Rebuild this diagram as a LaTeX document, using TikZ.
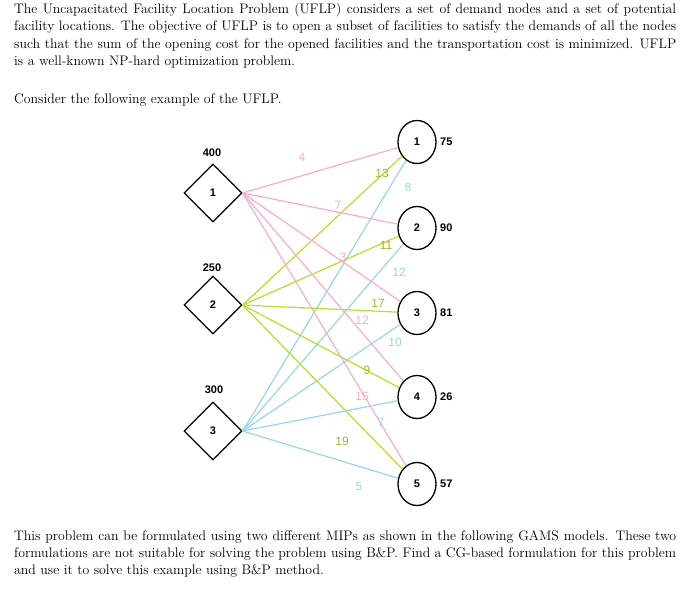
\documentclass[tikz,border=0pt]{standalone}
\usepackage{fontspec}
\setsansfont{Liberation Sans}
\usetikzlibrary{shapes.geometric, positioning}
\definecolor{fpink}{RGB}{255,170,200}
\definecolor{fgreen}{RGB}{180,225,40}
\definecolor{fblue}{RGB}{150,215,235}
\tikzset{
  fac/.style={diamond, draw, line width=1.3pt, minimum size=58pt, inner sep=0pt, font=\sffamily\bfseries\fontsize{11}{13}\selectfont},
  cust/.style={ellipse, draw, line width=1.3pt, minimum width=38pt, minimum height=43pt, inner sep=0pt, font=\sffamily\bfseries\fontsize{11}{13}\selectfont},
  val/.style={font=\sffamily\bfseries\fontsize{11}{13}\selectfont},
  cost/.style={font=\sffamily\fontsize{12}{14}\selectfont, inner sep=0pt},
  link/.style={line width=1.2pt},
  para/.style={text width=662pt, align=justify, anchor=north west, inner sep=0pt, font=\fontsize{13.8}{17.4}\selectfont}
}
\begin{document}
\begin{tikzpicture}[x=1pt, y=-1pt]
\useasboundingbox (0,0) rectangle (682,594);
\node[para] (intro) at (14,3) {The Uncapacitated Facility Location Problem (UFLP) considers a set of demand nodes and a set of po\-tential facility locations. The objective of UFLP is to open a subset of facilities to satisfy the demands of all the nodes such that the sum of the opening cost for the opened facilities and the transportation cost is minimized. UFLP is a well-known NP-hard optimization problem.};
\node[para] (cons) at (14,94) {Consider the following example of the UFLP.};
\node[para] (outro) at (14,530) {This problem can be formulated using two different MIPs as shown in the following GAMS models. These two formulations are not suitable for solving the problem using B\&P. Find a CG-based formulation for this problem and use it to solve this example using B\&P method.};

% facilities
\node[fac] (f1) at (213,193) {1};
\node[fac] (f2) at (213,305) {2};
\node[fac] (f3) at (213,431) {3};
\node[val] at (212,153) {400};
\node[val] at (212,268) {250};
\node[val] at (214,390) {300};

% customers
\foreach \i/\y/\d in {1/142/75, 2/228/90, 3/313/81, 4/397/26, 5/484/57} {
  \node[cust] (c\i) at (417,\y) {\i};
  \node[val, right=0pt of c\i] {\d};
}

% links
\foreach \i in {1,...,5} {
  \draw[link, fpink] (f1.east) -- (c\i);
  \draw[link, fgreen] (f2.east) -- (c\i);
  \draw[link, fblue] (f3.east) -- (c\i);
}

% costs
\foreach \t/\x/\y in {4/302/157, 7/338/205, 3/343/257, 12/362/320, 15/362/396}
  \node[cost, fpink] at (\x,\y) {\t};
\foreach \t/\x/\y in {13/382/173, 11/386/245, 17/378/303, 9/367/370, 19/342/441}
  \node[cost, fgreen!85!black] at (\x,\y) {\t};
\foreach \t/\x/\y in {8/408/187, 12/399/272, 10/395/342, 7/381/422, 5/359/486}
  \node[cost, fblue] at (\x,\y) {\t};
\end{tikzpicture}
\end{document}
